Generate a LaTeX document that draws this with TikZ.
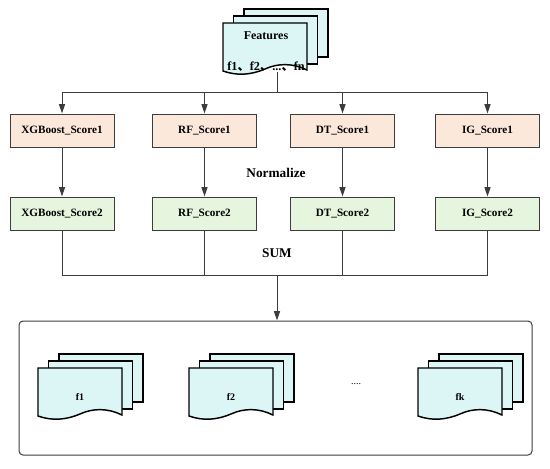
\documentclass[tikz,border=0pt]{standalone}
\usepackage{fontspec}
\setmainfont{Liberation Serif}
\newfontfamily\cjk{Noto Sans CJK SC}
\usetikzlibrary{arrows.meta}

\definecolor{sheetfill}{RGB}{220,245,245}
\definecolor{scoreone}{RGB}{251,232,219}
\definecolor{scoretwo}{RGB}{230,245,221}
\definecolor{edgegray}{RGB}{60,60,60}

\tikzset{every picture/.style={line width=0.75pt}}
\tikzset{
  sheet/.style={draw=black, fill=sheetfill, line width=1.1pt},
  scorebox/.style={draw=edgegray, minimum width=78pt, minimum height=24.75pt, inner sep=0pt,
    font=\fontsize{8.4}{10}\selectfont\bfseries},
  sheettext/.style={inner sep=0pt, font=\fontsize{7.5}{9}\selectfont\bfseries},
  steplabel/.style={inner sep=0pt, font=\fontsize{10}{12}\selectfont\bfseries},
  link/.style={draw=edgegray},
  arr/.style={draw=edgegray, -{Triangle[length=7pt,width=4.5pt]}}
}

% stack of three sheets, front sheet top-left at (#1,#2)
\newcommand{\docsheets}[2]{%
  \draw[sheet] (#1+21,#2-14) rectangle (#1+105,#2+34);
  \draw[sheet] (#1+10.5,#2-7) rectangle (#1+94.5,#2+41);
  \draw[sheet] (#1,#2) -- (#1+84,#2) -- (#1+84,#2+47)
    .. controls (#1+70,#2+40) and (#1+55,#2+40) .. (#1+42,#2+46)
    .. controls (#1+28,#2+52) and (#1+14,#2+53) .. (#1,#2+48) -- cycle;
}

\begin{document}
\begin{tikzpicture}[x=0.75pt,y=0.75pt,yscale=-1,xscale=1]
\useasboundingbox (0,0) rectangle (550,468);

%Shape: Document stack (features)
\docsheets{223}{23}
% Text Node
\node[sheettext, font=\fontsize{9}{11}\selectfont\bfseries] (feat) at (266,36) {Features};
% Text Node
\node[sheettext, font=\fontsize{9.2}{11}\selectfont\bfseries] (featlist) at (266,67)
  {f1{\cjk 、}f2{\cjk 、}...{\cjk 、}fn};
\coordinate (featout) at (277,72);
\coordinate (split) at (277,92);

% Score nodes
\node[scorebox, fill=scoreone] (sa1) at (62,130.5) {XGBoost\_Score1};
\node[scorebox, fill=scoreone] (sa2) at (204.5,130.5) {RF\_Score1};
\node[scorebox, fill=scoreone] (sa3) at (342.5,130.5) {DT\_Score1};
\node[scorebox, fill=scoreone] (sa4) at (487.5,130.5) {IG\_Score1};

\node[scorebox, fill=scoretwo] (sb1) at (62,213.5) {XGBoost\_Score2};
\node[scorebox, fill=scoretwo] (sb2) at (204.5,213.5) {RF\_Score2};
\node[scorebox, fill=scoretwo] (sb3) at (342.5,213.5) {DT\_Score2};
\node[scorebox, fill=scoretwo] (sb4) at (487.5,213.5) {IG\_Score2};

% Text Node
\node[steplabel] (norm) at (276,173) {Normalize};
% Text Node
\node[steplabel] (sum) at (277,253) {SUM};
\coordinate (join) at (277,275);

%Shape: Rounded Rectangle
\node[draw=edgegray, rounded corners=3pt, minimum width=384.75pt, minimum height=100.5pt] (pool) at (275.5,388) {};

%Shape: Document stacks (selected)
\docsheets{38}{368}
\docsheets{189}{368}
\docsheets{418}{368}
\node[sheettext] (fa) at (80,397) {f1};
\node[sheettext] (fb) at (231,397) {f2};
\node[sheettext] (fc) at (460,397) {fk};
% Text Node
\node[sheettext, font=\fontsize{7.5}{9}\selectfont] (gap) at (356,384) {....};

% connectors
\draw[link] (featout) -- (split);
\draw[link] (split -| sa1) -- (split -| sa4);
\foreach \i in {1,...,4} {
  \draw[arr] (split -| sa\i) -- (sa\i);
  \draw[arr] (sa\i) -- (sb\i);
  \draw[link] (sb\i) -- (sb\i |- join);
}
\draw[link] (join -| sb1) -- (join -| sb4);
\draw[arr] (join) -- (join |- pool.north);

\end{tikzpicture}
\end{document}
